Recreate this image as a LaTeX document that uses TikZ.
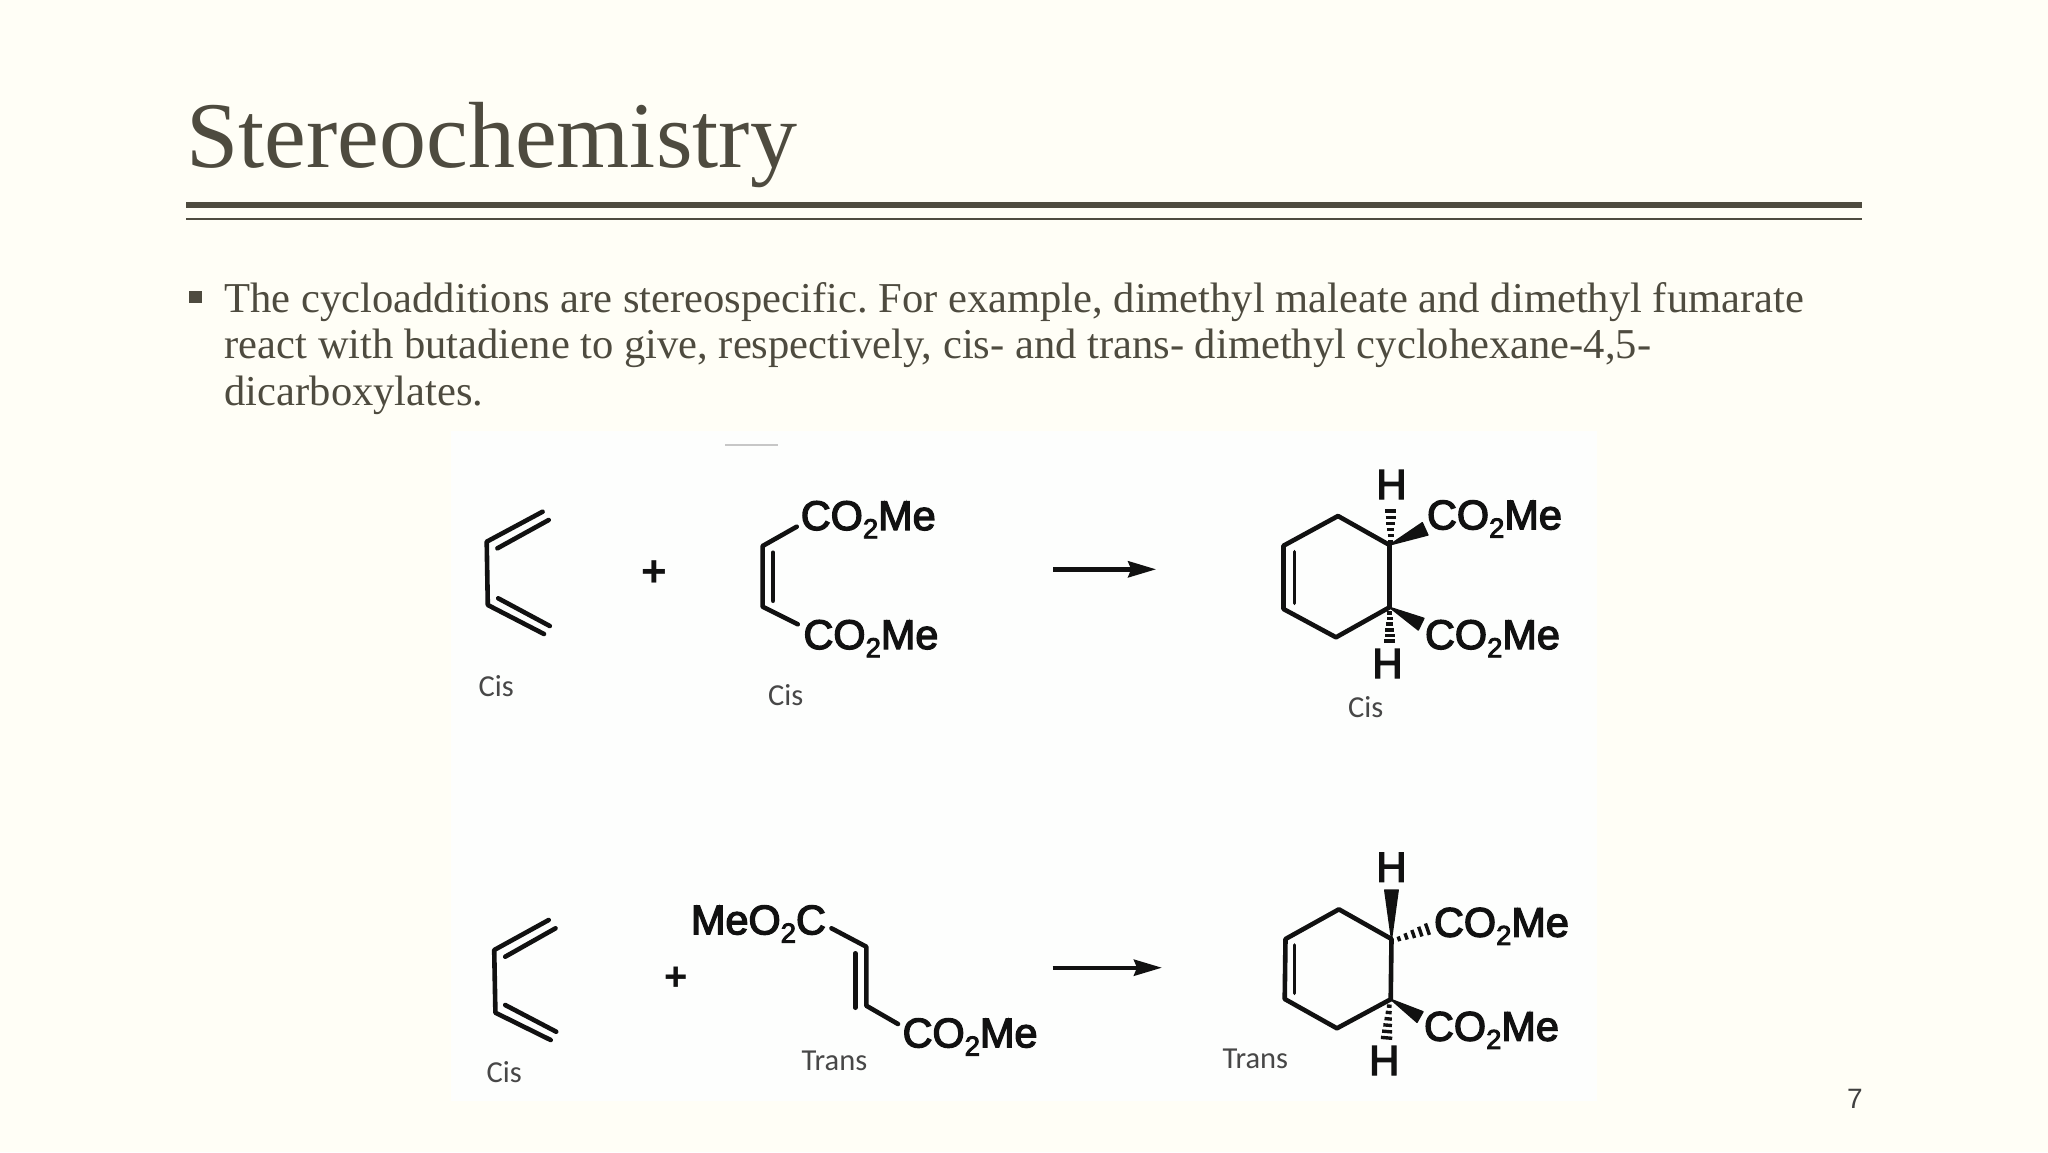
\documentclass[tikz,border=0pt]{standalone}
\usepackage{fontspec}
\usetikzlibrary{arrows.meta,calc}
\setmainfont{Liberation Serif}
\newfontfamily\chemfont[FakeBold=3.2]{Liberation Sans}
\newfontfamily\plusfont{Liberation Sans}
\newfontfamily\labelfont{Carlito}
\newfontfamily\numfont{Liberation Sans}
\definecolor{slidebg}{HTML}{FFFEF6}
\definecolor{panel}{HTML}{FDFEFD}
\definecolor{ink}{HTML}{4E4B3F}
\definecolor{chemink}{HTML}{111111}
\newcommand{\chemsub}{\raisebox{-0.2em}{\fontsize{27.5}{27.5}\selectfont 2}}
\newcommand{\hashwedge}[5]{% from, to, width start, width end, bars
  \foreach \i in {1,...,#5}{
    \pgfmathsetmacro{\tpos}{(\i-0.5)/#5}
    \pgfmathsetmacro{\wlen}{(#3+(#4-#3)*\tpos)/2}
    \draw[line width=3.4pt,chemink,line cap=butt]
      ($(#1)!\tpos!(#2)!\wlen pt!90:(#2)$) -- ($(#1)!\tpos!(#2)!\wlen pt!-90:(#2)$);
  }}
\tikzset{
  bond/.style={line width=4.6pt,chemink,line cap=round,line join=round},
  wedgefill/.style={fill=chemink,draw=chemink,line width=1.4pt,line join=round},
  chem/.style={font=\chemfont\fontsize{41.4}{41.4}\selectfont,text=chemink,anchor=base west,inner sep=0pt,outer sep=0pt,xshift=-2pt},
  hlabel/.style={font=\chemfont\fontsize{42}{42}\selectfont,text=chemink,anchor=base,inner sep=0pt},
  plussign/.style={font=\plusfont\bfseries\fontsize{44}{44}\selectfont,text=chemink,inner sep=0pt,yshift=-2pt},
  tag/.style={font=\labelfont\fontsize{30.5}{30.5}\selectfont,text=black!72,anchor=base west,inner sep=0pt,xshift=-1pt,yshift=-0.7pt},
  arrowline/.style={line width=4.4pt,chemink,-{Stealth[length=28pt,width=16pt,inset=3pt]}},
  bodyline/.style={font=\fontsize{42.57}{46}\selectfont,text=ink,anchor=base west,inner sep=0pt}
}
\begin{document}
\frenchspacing
\begin{tikzpicture}[x=1pt,y=-1pt]
\useasboundingbox (0,0) rectangle (2048,1152);
\fill[slidebg] (0,0) rectangle (2048,1152);
\fill[panel] (451,431) rectangle (1597,1101);
% header
\node[font=\fontsize{94}{94}\selectfont,text=ink,anchor=base west,inner sep=0pt] (title) at (186,167) {Stereochemistry};
\fill[ink] (185.5,201.7) rectangle (1862,207.7);
\fill[ink] (185.5,217.7) rectangle (1862,220);
\fill[ink] (189,290.7) rectangle (201.5,302.7);
\node[bodyline] (l1) at (224.5,312.5) {The cycloadditions are stereospecific. For example, dimethyl maleate and dimethyl fumarate};
\node[bodyline] (l2) at (224.5,358.5) {react with butadiene to give, respectively, cis- and trans- dimethyl cyclohexane-4,5-};
\node[bodyline] (l3) at (224.5,405) {dicarboxylates.};
\node[font=\numfont\fontsize{28}{28}\selectfont,text=black!75,anchor=base] (pagenum) at (1855,1108.5) {7};
% smudge
\draw[line width=1.5pt,black!22] (725,445) -- (778,445);
% ---- top row: diene
\coordinate (a1) at (542.6,511.7); \coordinate (a2) at (486.7,541.7);
\coordinate (a3) at (487.8,605); \coordinate (a4) at (544,634);
\coordinate (a5) at (497.4,548.3); \coordinate (a6) at (548.7,520);
\coordinate (a7) at (498.2,598.3); \coordinate (a8) at (549.8,626);
\draw[bond] (a1) -- (a2) -- (a3) -- (a4);
\draw[bond] (a5) -- (a6);
\draw[bond] (a7) -- (a8);
\node[tag] (cisa) at (479.4,696) {Cis};
\node[plussign] (plusa) at (654.3,571.7) {+};
% maleate
\coordinate (b1) at (796.7,526.7); \coordinate (b2) at (762.6,546);
\coordinate (b3) at (762.6,606.7); \coordinate (b4) at (797.8,624.3);
\coordinate (b5) at (773,552.7); \coordinate (b6) at (773,600.7);
\draw[bond] (b1) -- (b2) -- (b3) -- (b4);
\draw[bond] (b5) -- (b6);
\node[chem] (ca) at (802.8,530) {CO\chemsub Me};
\node[chem] (cb) at (805.5,649) {CO\chemsub Me};
\node[tag] (cisb) at (769,705) {Cis};
% arrow
\coordinate (ar1) at (1053.4,569.3); \coordinate (ar2) at (1156.2,569.3);
\draw[arrowline] (ar1) -- (ar2);
% product cis
\coordinate (r1) at (1338,516); \coordinate (r2) at (1389.5,545);
\coordinate (r3) at (1389.5,607.3); \coordinate (r4) at (1336,637.3);
\coordinate (r5) at (1283.5,609); \coordinate (r6) at (1283.5,545.7);
\coordinate (r7) at (1294.6,551.7); \coordinate (r8) at (1294.6,603.3);
\draw[bond] (r6) -- (r1) -- (r2) -- (r3) -- (r4) -- (r5) -- cycle;
\draw[bond,line width=3.6pt] (r7) -- (r8);
\fill[wedgefill] (r2) -- (1422.3,522.7) -- (1427.9,535) -- cycle;
\fill[wedgefill] (r3) -- (1423.9,618.3) -- (1418.3,630) -- cycle;
\coordinate (r9) at (1390.5,545); \coordinate (r10) at (1390.5,508);
\coordinate (r11) at (1389.5,610); \coordinate (r12) at (1389.5,644);
\hashwedge{r9}{r10}{4}{12}{6}
\hashwedge{r11}{r12}{4}{12}{6}
\node[hlabel] (ha) at (1391.5,499) {H};
\node[hlabel] (hb) at (1387.5,678) {H};
\node[chem] (cc) at (1429,529.3) {CO\chemsub Me};
\node[chem] (cd) at (1427,649) {CO\chemsub Me};
\node[tag] (cisc) at (1348.8,716.7) {Cis};
% ---- bottom row: diene
\coordinate (d1) at (548.7,920); \coordinate (d2) at (494.2,950);
\coordinate (d3) at (495.4,1012.7); \coordinate (d4) at (550.7,1040);
\coordinate (d5) at (505.2,956.7); \coordinate (d6) at (555.5,928.3);
\coordinate (d7) at (505.2,1005); \coordinate (d8) at (556.2,1031.7);
\draw[bond] (d1) -- (d2) -- (d3) -- (d4);
\draw[bond] (d5) -- (d6);
\draw[bond] (d7) -- (d8);
\node[tag] (cisd) at (487.5,1081.7) {Cis};
\node[plussign,font=\plusfont\bfseries\fontsize{40}{40}\selectfont] (plusb) at (676,976.7) {+};
% fumarate
\coordinate (e1) at (831.5,928.3); \coordinate (e2) at (866.3,946.7);
\coordinate (e3) at (866.3,1005.7); \coordinate (e4) at (898,1024);
\coordinate (e5) at (855.2,953.3); \coordinate (e6) at (855.2,1007.7);
\draw[bond] (e1) -- (e2) -- (e3) -- (e4);
\draw[bond] (e5) -- (e6);
\node[chem] (ce) at (693,934.3) {MeO\chemsub C};
\node[chem] (cf) at (904.6,1047.3) {CO\chemsub Me};
\node[tag] (transa) at (802.5,1070) {Trans};
% arrow
\coordinate (as1) at (1052.6,967.7); \coordinate (as2) at (1162,967.7);
\draw[arrowline] (as1) -- (as2);
% product trans
\coordinate (s1) at (1338.9,909.3); \coordinate (s2) at (1391.5,939);
\coordinate (s3) at (1390.7,999.3); \coordinate (s4) at (1336.9,1028.3);
\coordinate (s5) at (1284.7,999); \coordinate (s6) at (1285.5,939);
\coordinate (s7) at (1294.6,945); \coordinate (s8) at (1294.6,993.3);
\draw[bond] (s6) -- (s1) -- (s2) -- (s3) -- (s4) -- (s5) -- cycle;
\draw[bond,line width=3.6pt] (s7) -- (s8);
\fill[wedgefill] (s2) -- (1384.7,890) -- (1398.2,890) -- cycle;
\fill[wedgefill] (s3) -- (1423,1011.7) -- (1417,1022.3) -- cycle;
\coordinate (s9) at (1395.4,940); \coordinate (s10) at (1431,928);
\coordinate (s11) at (1389.5,1003); \coordinate (s12) at (1386.3,1041);
\hashwedge{s9}{s10}{4}{13}{5}
\hashwedge{s11}{s12}{4}{12}{6}
\node[hlabel] (hc) at (1391.5,881.7) {H};
\node[hlabel] (hd) at (1384.3,1075) {H};
\node[chem] (cg) at (1436,936.7) {CO\chemsub Me};
\node[chem] (ch) at (1426,1040.7) {CO\chemsub Me};
\node[tag] (transb) at (1223.4,1067.7) {Trans};
\end{tikzpicture}
\end{document}
